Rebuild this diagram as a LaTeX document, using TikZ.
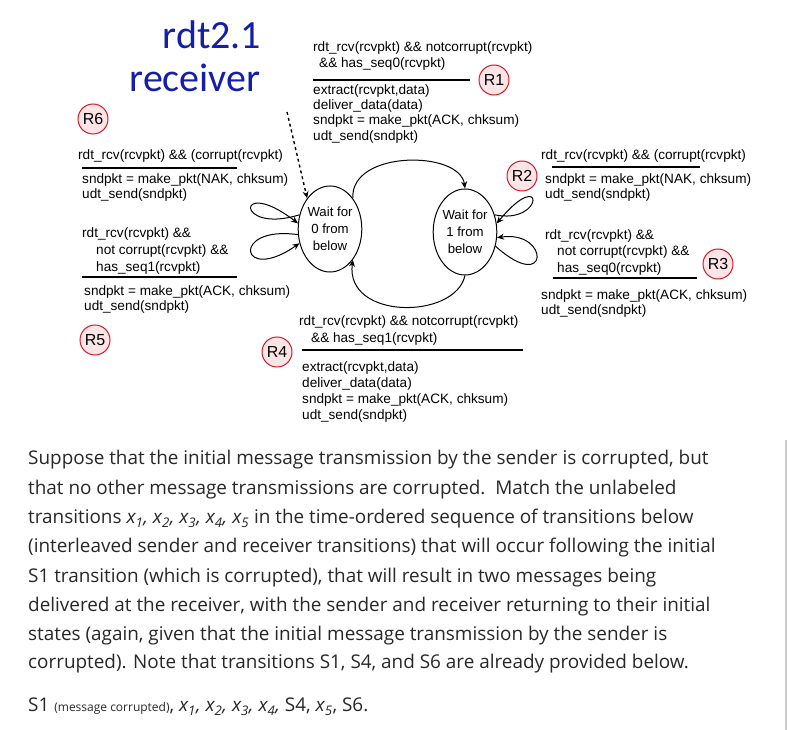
\documentclass[tikz,border=0pt]{standalone}
\usepackage{fontspec}
\setmainfont{Liberation Sans}
\newfontfamily\titlefont{Carlito}
\newfontfamily\parafont{Open Sans}
\usetikzlibrary{arrows.meta,shapes.geometric}
\definecolor{ttblue}{RGB}{20,30,170}
\definecolor{rred}{RGB}{205,30,40}
\definecolor{rfill}{RGB}{253,228,230}
\definecolor{ptext}{RGB}{40,40,40}
\tikzset{
 lbl/.style={anchor=west,inner sep=0pt,font=\fontsize{13.6}{15}\selectfont},
 tag/.style={circle,draw=rred,fill=rfill,text=black,line width=1pt,minimum size=30pt,inner sep=0pt,font=\fontsize{16}{18}\selectfont},
 st/.style={ellipse,draw,line width=1pt,minimum width=62pt,minimum height=86pt,align=center,inner sep=0pt,font=\fontsize{13.2}{17}\selectfont},
 arr/.style={-{Stealth[length=7pt,width=6pt]},line width=1pt},
 rl/.style={line width=1.6pt},
 para/.style={anchor=west,inner sep=0pt,text=ptext,font=\parafont\fontsize{18.9}{20}\selectfont}
}
\begin{document}
\begin{tikzpicture}[x=1pt,y=-1pt]
\useasboundingbox (0,0) rectangle (787,730);
\fill[white] (0,0) rectangle (787,730);
\draw[gray!40,line width=1.5pt] (786,440) -- (786,730);
\node[font=\titlefont\fontsize{40}{42}\selectfont,text=ttblue] (t1) at (212,35) {rdt2.1};
\node[font=\titlefont\fontsize{40}{42}\selectfont,text=ttblue] (t2) at (195,78) {receiver};
% states
\node[st] (s0) at (330,229) {Wait for\\0 from\\below};
\node[st] (s1) at (465,232) {Wait for\\1 from\\below};
\coordinate (d0) at (287,112);
\draw[arr,dashed,line width=1.4pt] (d0) -- (s0.north west);
\draw[arr] (s0.north east) .. controls (350,150) and (460,150) .. (s1.north);
\draw[arr] (s1.south) .. controls (455,320) and (345,320) .. (s0.south east);
% loops
\draw[arr] (s0.155) .. controls (235,235) and (235,175) .. (s0.170);
\draw[arr] (s0.190) .. controls (230,225) and (240,285) .. (s0.205);
\draw[arr] (s1.30) .. controls (545,225) and (545,165) .. (s1.15);
\draw[arr] (s1.-25) .. controls (550,295) and (550,230) .. (s1.-10);
% R1
\node[lbl] (a1) at (313,48) {rdt\_rcv(rcvpkt) \&\& notcorrupt(rcvpkt)};
\node[lbl] (a2) at (319,64) {\&\& has\_seq0(rcvpkt)};
\draw[rl] (313,80) -- (470,80);
\node[lbl] (a3) at (313,91) {extract(rcvpkt,data)};
\node[lbl] (a4) at (313,106) {deliver\_data(data)};
\node[lbl] (a5) at (313,121) {sndpkt = make\_pkt(ACK, chksum)};
\node[lbl] (a6) at (313,137) {udt\_send(sndpkt)};
\node[tag] (r1) at (494,80) {R1};
% R6
\node[tag] (r6) at (93,119) {R6};
\node[lbl] (b1) at (78,156) {rdt\_rcv(rcvpkt) \&\& (corrupt(rcvpkt)};
\draw[rl] (82,168) -- (237,168);
\node[lbl] (b2) at (82,180) {sndpkt = make\_pkt(NAK, chksum)};
\node[lbl] (b3) at (82,195) {udt\_send(sndpkt)};
% R5
\node[lbl] (c1) at (82,234) {rdt\_rcv(rcvpkt) \&\&};
\node[lbl] (c2) at (96,251) {not corrupt(rcvpkt) \&\&};
\node[lbl] (c3) at (96,268) {has\_seq1(rcvpkt)};
\draw[rl] (82,277) -- (237,277);
\node[lbl] (c4) at (84,292) {sndpkt = make\_pkt(ACK, chksum)};
\node[lbl] (c5) at (84,307) {udt\_send(sndpkt)};
\node[tag] (r5) at (95,340) {R5};
% R2
\node[tag] (r2) at (522,176) {R2};
\node[lbl] (e1) at (541,156) {rdt\_rcv(rcvpkt) \&\& (corrupt(rcvpkt)};
\draw[rl] (552,167) -- (700,167);
\node[lbl] (e2) at (545,180) {sndpkt = make\_pkt(NAK, chksum)};
\node[lbl] (e3) at (545,195) {udt\_send(sndpkt)};
% R3
\node[lbl] (f1) at (545,236) {rdt\_rcv(rcvpkt) \&\&};
\node[lbl] (f2) at (557,252) {not corrupt(rcvpkt) \&\&};
\node[lbl] (f3) at (557,269) {has\_seq0(rcvpkt)};
\draw[rl] (553,278) -- (697,278);
\node[tag] (r3) at (718,264) {R3};
\node[lbl] (f4) at (541,296) {sndpkt = make\_pkt(ACK, chksum)};
\node[lbl] (f5) at (541,311) {udt\_send(sndpkt)};
% R4
\node[lbl] (g1) at (299,322) {rdt\_rcv(rcvpkt) \&\& notcorrupt(rcvpkt)};
\node[lbl] (g2) at (311,339) {\&\& has\_seq1(rcvpkt)};
\draw[rl] (302,350) -- (523,350);
\node[tag] (r4) at (277,352) {R4};
\node[lbl] (g3) at (302,368) {extract(rcvpkt,data)};
\node[lbl] (g4) at (302,384) {deliver\_data(data)};
\node[lbl] (g5) at (302,400) {sndpkt = make\_pkt(ACK, chksum)};
\node[lbl] (g6) at (302,416) {udt\_send(sndpkt)};
% paragraph
\node[para] (p1) at (28,460) {Suppose that the initial message transmission by the sender is corrupted, but};
\node[para] (p2) at (28,490) {that no other message transmissions are corrupted.\ \ Match the unlabeled};
\node[para] (p3) at (28,519) {transitions \textit{x\textsubscript{1}, x\textsubscript{2}, x\textsubscript{3}, x\textsubscript{4}, x\textsubscript{5}} in the time-ordered sequence of transitions below};
\node[para] (p4) at (28,548) {(interleaved sender and receiver transitions) that will occur following the initial};
\node[para] (p5) at (28,578) {S1 transition (which is corrupted), that will result in two messages being};
\node[para] (p6) at (28,607) {delivered at the receiver, with the sender and receiver returning to their initial};
\node[para] (p7) at (28,636) {states (again, given that the initial message transmission by the sender is};
\node[para] (p8) at (28,664) {corrupted). Note that transitions S1, S4, and S6 are already provided below.};
\node[para] (p9) at (28,707) {S1 {\fontsize{12}{12}\selectfont (message corrupted)}, \textit{x\textsubscript{1}, x\textsubscript{2}, x\textsubscript{3}, x\textsubscript{4},} S4, \textit{x\textsubscript{5}}, S6.};
\end{tikzpicture}
\end{document}
